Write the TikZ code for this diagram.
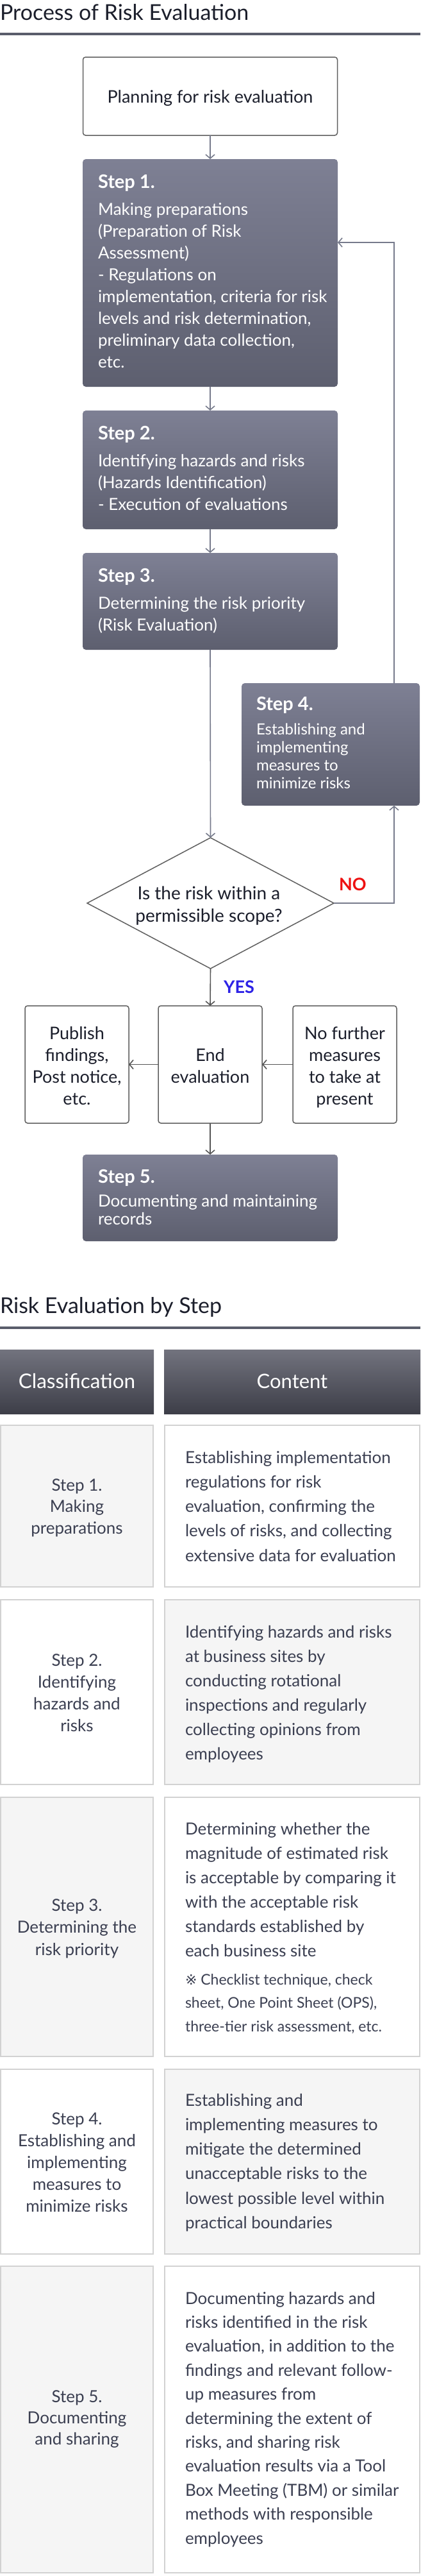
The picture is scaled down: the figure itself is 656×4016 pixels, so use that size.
\documentclass[tikz,border=0pt]{standalone}
\usepackage{fontspec}
\setmainfont{Lato}
\newfontfamily\symfont{DejaVu Sans}
\usetikzlibrary{shapes.geometric,arrows.meta}
\definecolor{titlecol}{HTML}{1B1E2B}
\definecolor{rulecol}{HTML}{5A5D6B}
\definecolor{stepTop}{HTML}{7E8094}
\definecolor{stepBot}{HTML}{5D5F6F}
\definecolor{boxline}{HTML}{5F5F5F}
\definecolor{conncol}{HTML}{767A8B}
\definecolor{dconncol}{HTML}{555555}
\definecolor{nored}{HTML}{EE1111}
\definecolor{yesblue}{HTML}{2D22E6}
\definecolor{headTop}{HTML}{72737E}
\definecolor{headBot}{HTML}{3D3E48}
\definecolor{cellgray}{HTML}{F5F5F5}
\definecolor{cellborder}{HTML}{D2D2D2}
\definecolor{tabtext}{HTML}{3B3F51}
\newcommand\fs[2]{\fontsize{#1}{#2}\selectfont}
\tikzset{
  stepbox/.style={rounded corners=5pt, top color=stepTop, bottom color=stepBot, draw=none,
    inner sep=0pt, outer sep=0pt, anchor=north west},
  wbox/.style={rounded corners=4pt, draw=boxline, line width=1.5pt, fill=white,
    inner sep=0pt, outer sep=0pt, anchor=north west},
  headcell/.style={top color=headTop, bottom color=headBot, draw=none,
    inner sep=0pt, outer sep=0pt, anchor=north west},
  graycell/.style={fill=cellgray, draw=cellborder, line width=2pt,
    inner sep=0pt, outer sep=0pt, anchor=north west},
  whitecell/.style={fill=white, draw=cellborder, line width=2pt,
    inner sep=0pt, outer sep=0pt, anchor=north west},
  ltext/.style={inner sep=0pt, outer sep=0pt, anchor=base west},
  ctext/.style={inner sep=0pt, outer sep=0pt, anchor=base},
  conn/.style={draw=conncol, line width=1.6pt, -{Straight Barb[length=6pt,width=14pt,line width=1.6pt]}},
  dconn/.style={draw=dconncol, line width=1.6pt, -{Straight Barb[length=6pt,width=14pt,line width=1.6pt]}},
}
\begin{document}
\begin{tikzpicture}[x=1pt,y=-1pt]
\useasboundingbox (0,0) rectangle (656,4016);
\fill[white] (0,0) rectangle (656,4016);

% ---------- Title 1
\node[ltext, text=titlecol] (title1) at (0,31) {\fs{34}{40}Process of Risk Evaluation};
\fill[rulecol] (0,51) rectangle (656,55);

% ---------- Flow boxes
\node[wbox, minimum width=397pt, minimum height=122pt] (plan) at (129.5,89) {};
\node[ctext, text=titlecol] (plant) at (328,160) {\fs{27}{34}Planning for risk evaluation};

\node[stepbox, minimum width=398pt, minimum height=355pt] (s1) at (129,248) {};
\node[ltext, text=white] (s1h) at (153,293) {\fs{29}{34}\bfseries Step 1.};
\node[ltext, text=white] (s1b) at (153,335) {\parbox[t]{370pt}{\raggedright\fs{26}{34}Making preparations\\(Preparation of Risk\\Assessment)\\- Regulations on\\implementation, criteria for risk\\levels and risk determination,\\preliminary data collection,\\etc.}};

\node[stepbox, minimum width=398pt, minimum height=185pt] (s2) at (129,640) {};
\node[ltext, text=white] (s2h) at (153,685) {\fs{29}{34}\bfseries Step 2.};
\node[ltext, text=white] (s2b) at (153,727) {\parbox[t]{370pt}{\raggedright\fs{26}{34}Identifying hazards and risks\\(Hazards Identification)\\- Execution of evaluations}};

\node[stepbox, minimum width=398pt, minimum height=151pt] (s3) at (129,862) {};
\node[ltext, text=white] (s3h) at (153,907) {\fs{29}{34}\bfseries Step 3.};
\node[ltext, text=white] (s3b) at (153,949) {\parbox[t]{370pt}{\raggedright\fs{26}{34}Determining the risk priority\\(Risk Evaluation)}};

\node[stepbox, minimum width=278pt, minimum height=191pt] (s4) at (377,1065) {};
\node[ltext, text=white] (s4h) at (400,1107) {\fs{29}{34}\bfseries Step 4.};
\node[ltext, text=white] (s4b) at (400,1145) {\parbox[t]{250pt}{\raggedright\fs{24}{28}Establishing and\\implementing\\measures to\\minimize risks}};

\node[diamond, draw=boxline, line width=1.5pt, fill=white, minimum width=385pt, minimum height=204pt, inner sep=0pt, outer sep=0pt] (dia) at (328.5,1408) {};
\node[ctext, text=titlecol] (diat) at (326,1402) {\parbox[t]{300pt}{\centering\fs{28}{35}Is the risk within a\\permissible scope?}};
\node[ltext, text=nored] (nolab) at (529,1388) {\fs{27}{27}\bfseries NO};
\node[ltext, text=yesblue] (yeslab) at (349,1548) {\fs{27}{27}\bfseries YES};

\node[wbox, minimum width=162pt, minimum height=183pt] (pub) at (39,1568) {};
\node[ctext, text=titlecol] (pubt) at (120,1620) {\parbox[t]{160pt}{\centering\fs{27}{34}Publish\\findings,\\Post notice,\\etc.}};
\node[wbox, minimum width=162pt, minimum height=183pt] (endb) at (247,1568) {};
\node[ctext, text=titlecol] (endt) at (328,1654) {\parbox[t]{160pt}{\centering\fs{27}{34}End\\evaluation}};
\node[wbox, minimum width=162pt, minimum height=183pt] (nof) at (457,1568) {};
\node[ctext, text=titlecol] (noft) at (538,1620) {\parbox[t]{160pt}{\centering\fs{27}{34}No further\\measures\\to take at\\present}};

\node[stepbox, minimum width=398pt, minimum height=135pt] (s5) at (129,1800) {};
\node[ltext, text=white] (s5h) at (153,1844) {\fs{29}{34}\bfseries Step 5.};
\node[ltext, text=white] (s5b) at (153,1881) {\parbox[t]{370pt}{\raggedright\fs{26}{28}Documenting and maintaining\\records}};

% ---------- Connectors
\coordinate (fbx) at (615,378);
\draw[conn] (plan.south) -- (s1.north);
\draw[conn] (s1.south) -- (s2.north);
\draw[conn] (s2.south) -- (s3.north);
\draw[conn] (s3.south) -- (dia.north);
\draw[conn] (dia.east) -| (s4.south -| fbx);
\draw[conn] (s4.north -| fbx) -- (fbx) -- (fbx -| s1.east);
\draw[dconn] (dia.south) -- (endb.north);
\draw[dconn] (endb.west) -- (pub.east);
\draw[dconn] (nof.west) -- (endb.east);
\draw[dconn] (endb.south) -- (s5.north);

% ---------- Title 2
\node[ltext, text=titlecol] (title2) at (0,2047) {\fs{34}{40}Risk Evaluation by Step};
\fill[rulecol] (0,2068) rectangle (656,2072);

% ---------- Table header
\node[headcell, minimum width=240pt, minimum height=100pt] (hc1) at (0,2104) {};
\node[headcell, minimum width=400pt, minimum height=100pt] (hc2) at (256,2104) {};
\node[ctext, text=white] (hc1t) at (120,2164) {\fs{31.5}{34}Classification};
\node[ctext, text=white] (hc2t) at (456,2164) {\fs{31}{34}Content};

% ---------- Rows
% row 1
\node[graycell, minimum width=238pt, minimum height=252pt] (r1a) at (1,2222) {};
\node[whitecell, minimum width=398pt, minimum height=252pt] (r1b) at (257,2222) {};
\node[ctext, text=tabtext] (r1at) at (120,2324) {\parbox[t]{230pt}{\centering\fs{26}{33.5}Step 1.\\Making\\preparations}};
\node[ltext, text=tabtext] (r1bt) at (289,2281) {\parbox[t]{360pt}{\raggedright\fs{26}{38.3}Establishing implementation\\regulations for risk\\evaluation, confirming the\\levels of risks, and collecting\\extensive data for evaluation}};
% row 2
\node[whitecell, minimum width=238pt, minimum height=288pt] (r2a) at (1,2494) {};
\node[graycell, minimum width=398pt, minimum height=288pt] (r2b) at (257,2494) {};
\node[ctext, text=tabtext] (r2at) at (120,2597) {\parbox[t]{230pt}{\centering\fs{26}{34}Step 2.\\Identifying\\hazards and\\risks}};
\node[ltext, text=tabtext] (r2bt) at (289,2553) {\parbox[t]{360pt}{\raggedright\fs{26}{38}Identifying hazards and risks\\at business sites by\\conducting rotational\\inspections and regularly\\collecting opinions from\\employees}};
% row 3
\node[graycell, minimum width=238pt, minimum height=404pt] (r3a) at (1,2802) {};
\node[whitecell, minimum width=398pt, minimum height=404pt] (r3b) at (257,2802) {};
\node[ctext, text=tabtext] (r3at) at (120,2979) {\parbox[t]{230pt}{\centering\fs{26}{34.5}Step 3.\\Determining the\\risk priority}};
\node[ltext, text=tabtext] (r3bt) at (289,2860) {\parbox[t]{360pt}{\raggedright\fs{26}{38}Determining whether the\\magnitude of estimated risk\\is acceptable by comparing it\\with the acceptable risk\\standards established by\\each business site}};
\node[ltext, text=tabtext] (r3bn) at (289,3094) {\parbox[t]{360pt}{\raggedright\fs{23}{36.5}{\symfont\fs{22}{36.5}※} Checklist technique, check\\sheet, One Point Sheet (OPS),\\three-tier risk assessment, etc.}};
% row 4
\node[whitecell, minimum width=238pt, minimum height=288pt] (r4a) at (1,3226) {};
\node[graycell, minimum width=398pt, minimum height=288pt] (r4b) at (257,3226) {};
\node[ctext, text=tabtext] (r4at) at (120,3312) {\parbox[t]{230pt}{\centering\fs{26}{34}Step 4.\\Establishing and\\implementing\\measures to\\minimize risks}};
\node[ltext, text=tabtext] (r4bt) at (289,3283) {\parbox[t]{360pt}{\raggedright\fs{26}{38.3}Establishing and\\implementing measures to\\mitigate the determined\\unacceptable risks to the\\lowest possible level within\\practical boundaries}};
% row 5
\node[graycell, minimum width=238pt, minimum height=478pt] (r5a) at (1,3533) {};
\node[whitecell, minimum width=398pt, minimum height=478pt] (r5b) at (257,3533) {};
\node[ctext, text=tabtext] (r5at) at (120,3745) {\parbox[t]{230pt}{\centering\fs{26}{33}Step 5.\\Documenting\\and sharing}};
\node[ltext, text=tabtext] (r5bt) at (289,3592) {\parbox[t]{360pt}{\raggedright\fs{26}{37.4}Documenting hazards and\\risks identified in the risk\\evaluation, in addition to the\\findings and relevant follow-\\up measures from\\determining the extent of\\risks, and sharing risk\\evaluation results via a Tool\\Box Meeting (TBM) or similar\\methods with responsible\\employees}};
\end{tikzpicture}
\end{document}
